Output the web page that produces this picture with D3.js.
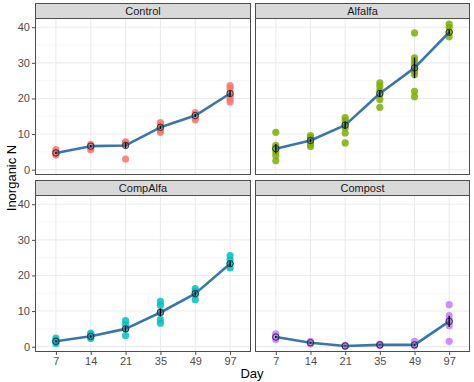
<!DOCTYPE html>
<html>
<head>
<meta charset="utf-8">
<script src="https://cdn.jsdelivr.net/npm/d3@7/dist/d3.min.js"></script>
<style>
  html, body { margin: 0; padding: 0; background: #fff; }
  svg { display: block; font-family: "Liberation Sans", Arial, sans-serif; }
</style>
</head>
<body>
<svg id="chart" width="474" height="382"></svg>
<script>
// ---- data ----
const days = ["7", "14", "21", "35", "49", "97"];
const treatments = ["Control", "Alfalfa", "CompAlfa", "Compost"];
const colors = ["#F8766D", "#7CAE00", "#00BFC4", "#C77CFF"];
const yTicks = [0, 10, 20, 30, 40];

// replicate observations per day
const controlPoints = [
  [5.6, 5.1, 4.6, 4.1],
  [7.1, 6.6, 6.1, 5.6],
  [7.8, 7.5, 7.2, 3.0],
  [13.2, 12.6, 11.6, 10.9, 10.5],
  [16.0, 15.5, 14.6, 14.0],
  [23.6, 22.8, 21.6, 20.6, 19.8, 19.0]
];
const alfalfaPoints = [
  [10.5, 6.8, 6.0, 5.0, 4.0, 2.5],
  [9.6, 9.0, 8.5, 8.0, 7.2, 6.5],
  [14.6, 13.8, 12.9, 11.8, 10.3, 7.5],
  [24.4, 23.4, 22.3, 21.1, 19.7, 17.5],
  [38.4, 31.4, 30.4, 29.5, 28.5, 27.6, 26.7, 22.0, 20.5],
  [40.9, 40.0, 38.6, 37.3]
];
const compAlfaPoints = [
  [2.4, 1.8, 1.3, 0.9],
  [3.8, 3.3, 2.8, 2.3],
  [7.3, 6.2, 5.0, 3.1],
  [12.7, 11.6, 9.7, 7.6, 6.6],
  [16.3, 15.5, 14.6, 13.2],
  [25.6, 24.4, 23.3, 22.1]
];
const compostPoints = [
  [3.6, 3.0, 2.5, 2.0],
  [1.5, 1.1, 0.8],
  [0.4, 0.2, 0.1],
  [0.7, 0.5, 0.3],
  [1.5, 0.5, 0.3],
  [11.8, 8.7, 7.5, 6.9, 5.9, 1.5]
];

// means and standard errors per day
const controlMean = [4.7, 6.6, 6.8, 11.9, 15.2, 21.4];
const alfalfaMean = [5.9, 8.2, 12.5, 21.4, 28.6, 38.6];
const compAlfaMean = [1.5, 2.9, 5.0, 9.6, 14.9, 23.3];
const compostMean = [2.7, 1.1, 0.2, 0.5, 0.5, 7.1];

const controlSE = [0.3, 0.3, 0.8, 0.5, 0.4, 0.8];
const alfalfaSE = [1.3, 0.5, 1.0, 1.0, 2.9, 0.6];
const compAlfaSE = [0.3, 0.3, 0.8, 1.1, 0.6, 0.7];
const compostSE = [0.3, 0.2, 0.1, 0.1, 0.2, 1.6];

const pointsByTreatment = [controlPoints, alfalfaPoints, compAlfaPoints, compostPoints];
const meansByTreatment = [controlMean, alfalfaMean, compAlfaMean, compostMean];
const seByTreatment = [controlSE, alfalfaSE, compAlfaSE, compostSE];

// ---- layout ----
const svg = d3.select("#chart");
const colX = [[35, 251], [255, 470]];
const rowY = [{ strip: 3, top: 18, bottom: 175 }, { strip: 180, top: 195, bottom: 352 }];
const lineColor = "#3a75ad";

treatments.forEach((name, i) => {
  const col = i % 2, row = Math.floor(i / 2);
  const [x0, x1] = colX[col];
  const r = rowY[row];
  const x = d3.scalePoint().domain(days).range([x0, x1]).padding(0.6);
  const y = d3.scaleLinear().domain([-1.5, 42.6]).range([r.bottom, r.top]);
  const g = svg.append("g");

  // panel background
  g.append("rect").attr("x", x0).attr("y", r.top).attr("width", x1 - x0).attr("height", r.bottom - r.top)
    .attr("fill", "#fff");

  // minor grid
  const minor = [5, 15, 25, 35];
  g.selectAll(".minor").data(minor).enter().append("line")
    .attr("x1", x0).attr("x2", x1).attr("y1", d => y(d)).attr("y2", d => y(d))
    .attr("stroke", "#f2f2f2").attr("stroke-width", 0.6);
  // major grid
  g.selectAll(".major").data(yTicks).enter().append("line")
    .attr("x1", x0).attr("x2", x1).attr("y1", d => y(d)).attr("y2", d => y(d))
    .attr("stroke", "#ebebeb").attr("stroke-width", 1.1);
  g.selectAll(".vgrid").data(days).enter().append("line")
    .attr("x1", d => x(d)).attr("x2", d => x(d)).attr("y1", r.top).attr("y2", r.bottom)
    .attr("stroke", "#ebebeb").attr("stroke-width", 1.1);

  // raw points
  const pts = [];
  pointsByTreatment[i].forEach((arr, j) => arr.forEach(v => pts.push({ day: days[j], v })));
  g.selectAll(".pt").data(pts).enter().append("circle")
    .attr("cx", d => x(d.day)).attr("cy", d => y(d.v)).attr("r", 3.6)
    .attr("fill", colors[i]).attr("fill-opacity", 0.85);

  // mean line
  const means = meansByTreatment[i].map((m, j) => ({ day: days[j], m, se: seByTreatment[i][j] }));
  g.append("path").datum(means)
    .attr("d", d3.line().x(d => x(d.day)).y(d => y(d.m)))
    .attr("fill", "none").attr("stroke", lineColor).attr("stroke-width", 2.6)
    .attr("stroke-linejoin", "round");

  // mean circles
  g.selectAll(".mean").data(means).enter().append("circle")
    .attr("cx", d => x(d.day)).attr("cy", d => y(d.m)).attr("r", 3.2)
    .attr("fill", "none").attr("stroke", "#222").attr("stroke-width", 0.9);
  // error bars
  g.selectAll(".eb").data(means).enter().append("line")
    .attr("x1", d => x(d.day)).attr("x2", d => x(d.day))
    .attr("y1", d => y(d.m - d.se)).attr("y2", d => y(d.m + d.se))
    .attr("stroke", "#000").attr("stroke-width", 1.3);

  // panel border
  g.append("rect").attr("x", x0 + 0.5).attr("y", r.top + 0.5).attr("width", x1 - x0 - 1).attr("height", r.bottom - r.top - 1)
    .attr("fill", "none").attr("stroke", "#4d4d4d").attr("stroke-width", 1);

  // strip
  g.append("rect").attr("x", x0 + 0.5).attr("y", r.strip + 0.5).attr("width", x1 - x0 - 1).attr("height", r.top - r.strip)
    .attr("fill", "#d9d9d9").attr("stroke", "#4d4d4d").attr("stroke-width", 1);
  g.append("text").attr("x", (x0 + x1) / 2).attr("y", (r.strip + r.top) / 2 + 0.5)
    .attr("text-anchor", "middle").attr("dominant-baseline", "central")
    .attr("font-size", 11).attr("fill", "#1a1a1a").text(name);

  // y axis for left column
  if (col === 0) {
    const ya = g.append("g").attr("transform", `translate(${x0},0)`)
      .call(d3.axisLeft(y).tickValues(yTicks).tickSize(3).tickPadding(2));
    ya.select(".domain").remove();
    ya.selectAll(".tick line").attr("stroke", "#4d4d4d");
    ya.selectAll(".tick text").attr("fill", "#4d4d4d").attr("font-size", 11)
      .attr("font-family", "'Liberation Sans', Arial, sans-serif");
  }
  // x axis for bottom row
  if (row === 1) {
    const xa = g.append("g").attr("transform", `translate(0,${r.bottom})`)
      .call(d3.axisBottom(x).tickSize(3).tickPadding(2));
    xa.select(".domain").remove();
    xa.selectAll(".tick line").attr("stroke", "#4d4d4d");
    xa.selectAll(".tick text").attr("fill", "#4d4d4d").attr("font-size", 11)
      .attr("font-family", "'Liberation Sans', Arial, sans-serif");
  }
});

// axis titles
svg.append("text").attr("x", 252).attr("y", 378).attr("text-anchor", "middle")
  .attr("font-size", 13).attr("fill", "#000").text("Day");
svg.append("text").attr("transform", "translate(16,178) rotate(-90)").attr("text-anchor", "middle")
  .attr("font-size", 13).attr("fill", "#000").text("Inorganic N");
</script>
</body>
</html>
